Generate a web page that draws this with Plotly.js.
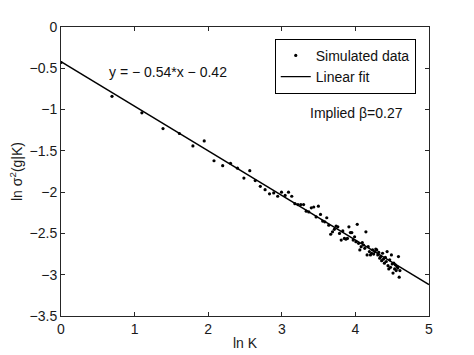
<!DOCTYPE html>
<html>
<head>
<meta charset="utf-8">
<script src="https://cdn.plot.ly/plotly-3.0.1.min.js"></script>
<style>html,body{margin:0;padding:0;background:#fff;}#chart{width:474px;height:355px;}</style>
</head>
<body>
<div id="chart"></div>
<script>
// ln K for K = 1..100
const lnK = [0.000,0.693,1.099,1.386,1.609,1.792,1.946,2.079,2.197,2.303,
  2.398,2.485,2.565,2.639,2.708,2.773,2.833,2.890,2.944,2.996,
  3.045,3.091,3.135,3.178,3.219,3.258,3.296,3.332,3.367,3.401,
  3.434,3.466,3.497,3.526,3.555,3.584,3.611,3.638,3.664,3.689,
  3.714,3.738,3.761,3.784,3.807,3.829,3.850,3.871,3.892,3.912,
  3.932,3.951,3.970,3.989,4.007,4.025,4.043,4.060,4.078,4.094,
  4.111,4.127,4.143,4.159,4.174,4.190,4.205,4.220,4.234,4.248,
  4.263,4.277,4.290,4.304,4.317,4.331,4.344,4.357,4.369,4.382,
  4.394,4.407,4.419,4.431,4.443,4.454,4.466,4.477,4.489,4.500,
  4.511,4.522,4.533,4.543,4.554,4.564,4.575,4.585,4.595,4.605];
// ln sigma^2(g|K), simulated data
const lnVar = [-0.43,-0.84,-1.04,-1.23,-1.29,-1.44,-1.38,-1.62,-1.68,-1.65,
  -1.71,-1.83,-1.74,-1.86,-1.93,-1.97,-2.02,-2.01,-2.05,-2.00,
  -2.04,-2.00,-2.05,-2.14,-2.15,-2.15,-2.15,-2.23,-2.24,-2.19,
  -2.18,-2.30,-2.17,-2.27,-2.35,-2.36,-2.31,-2.40,-2.51,-2.48,
  -2.45,-2.41,-2.42,-2.50,-2.58,-2.47,-2.56,-2.57,-2.56,-2.42,
  -2.49,-2.49,-2.58,-2.54,-2.60,-2.39,-2.62,-2.70,-2.66,-2.61,
  -2.64,-2.68,-2.48,-2.76,-2.66,-2.72,-2.76,-2.74,-2.70,-2.75,
  -2.72,-2.69,-2.70,-2.76,-2.73,-2.80,-2.78,-2.83,-2.74,-2.81,
  -2.86,-2.79,-2.84,-2.72,-2.89,-2.93,-2.82,-2.91,-2.76,-2.87,
  -2.98,-2.86,-2.93,-2.88,-2.95,-2.90,-2.92,-2.78,-3.03,-2.95];
// linear fit y = -0.54*x - 0.42 at the axis ends
const fitX = [0, 5];
const fitY = [-0.42, -3.12];
const xTicks = [0, 1, 2, 3, 4, 5];
const yTicks = [0, -0.5, -1, -1.5, -2, -2.5, -3, -3.5];

const FONT = 'Liberation Sans, Arial, Helvetica, sans-serif';
const AX = '#262626';

const traces = [
  {x: lnK, y: lnVar, type: 'scatter', mode: 'markers', name: 'Simulated data',
   marker: {color: '#000', size: 3.2, symbol: 'circle'}},
  {x: fitX, y: fitY, type: 'scatter', mode: 'lines', name: 'Linear fit',
   line: {color: '#000', width: 1.4}}
];

const axisCommon = {
  showgrid: false, zeroline: false, showline: true, linecolor: AX, linewidth: 1,
  mirror: 'ticks', ticks: 'inside', ticklen: 4, tickcolor: AX, tickwidth: 1,
  tickfont: {family: FONT, size: 14, color: '#1a1a1a'}
};

const layout = {
  width: 474, height: 355,
  margin: {l: 61, r: 45, t: 27, b: 39},
  paper_bgcolor: '#fff', plot_bgcolor: '#fff',
  font: {family: FONT, size: 14, color: '#1a1a1a'},
  showlegend: true,
  legend: {x: 0.964, y: 0.959, xanchor: 'right', yanchor: 'top',
    bgcolor: '#fff', bordercolor: '#000', borderwidth: 1,
    font: {family: FONT, size: 14, color: '#111'}, tracegroupgap: 0, itemwidth: 30},
  xaxis: Object.assign({}, axisCommon, {range: [0, 5], tickvals: xTicks,
    title: {text: 'ln K', font: {family: FONT, size: 14}, standoff: 2}}),
  yaxis: Object.assign({}, axisCommon, {range: [-3.5, 0], tickvals: yTicks,
    title: {text: 'ln σ<sup>2</sup>(g|K)', font: {family: FONT, size: 14}, standoff: 3}}),
  annotations: [
    {x: 1.45, y: -0.55, xref: 'x', yref: 'y', text: 'y = − 0.54*x − 0.42', showarrow: false,
     font: {family: FONT, size: 14, color: '#111'}},
    {x: 4.02, y: -1.04, xref: 'x', yref: 'y', text: 'Implied β=0.27', showarrow: false,
     font: {family: FONT, size: 14, color: '#111'}}
  ]
};

Plotly.newPlot('chart', traces, layout, {displayModeBar: false, staticPlot: true});
</script>
</body>
</html>
